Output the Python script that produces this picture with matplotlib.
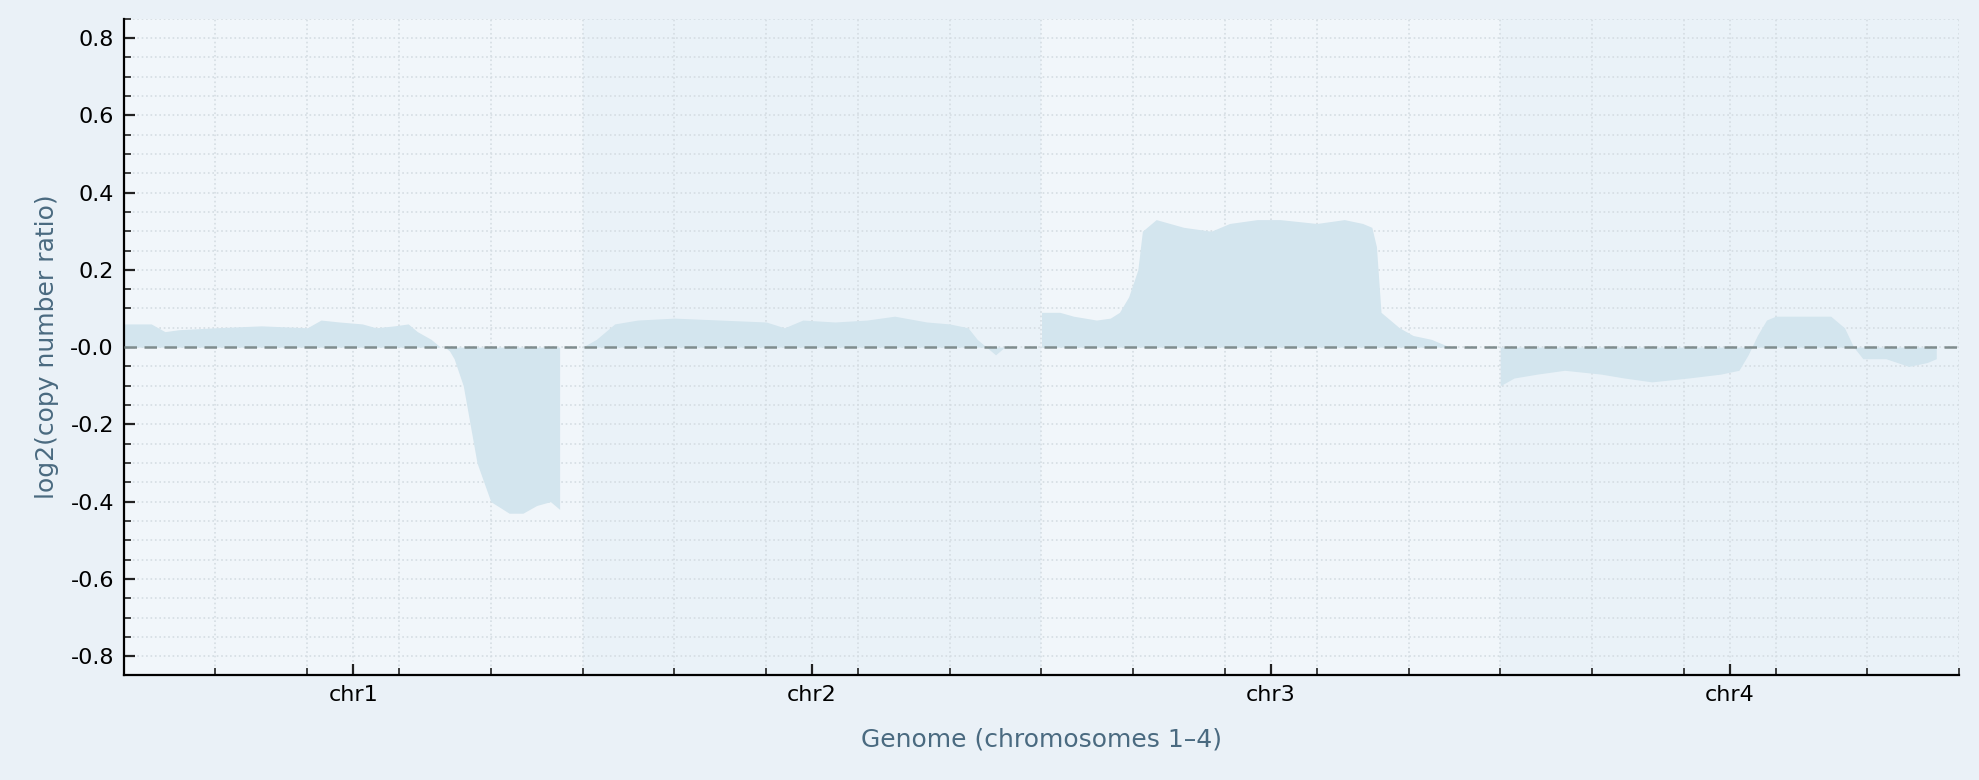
import matplotlib
matplotlib.use("Agg")
import matplotlib.pyplot as plt
import numpy as np
from matplotlib.ticker import MultipleLocator, FixedLocator

chroms = ["chr1", "chr2", "chr3", "chr4"]
# positions within each chromosome (fraction) and log2 ratio values
chr1_pos = [0.0,0.06,0.09,0.12,0.2,0.3,0.4,0.43,0.47,0.52,0.55,0.59,0.62,0.64,0.67,0.69,0.70,0.71,0.72,0.74,0.77,0.8,0.84,0.87,0.9,0.93,0.95]
chr1_val = [0.06,0.06,0.04,0.045,0.05,0.055,0.05,0.07,0.065,0.06,0.05,0.055,0.06,0.04,0.02,0.0,0.0,-0.01,-0.03,-0.1,-0.3,-0.4,-0.43,-0.43,-0.41,-0.40,-0.42]
chr2_pos = [0.0,0.03,0.07,0.12,0.2,0.3,0.4,0.44,0.48,0.55,0.62,0.68,0.75,0.8,0.84,0.86,0.88,0.9,0.92]
chr2_val = [0.0,0.02,0.06,0.07,0.075,0.07,0.065,0.05,0.07,0.065,0.07,0.08,0.065,0.06,0.05,0.02,0.0,-0.02,0.0]
chr3_pos = [0.0,0.04,0.07,0.12,0.15,0.17,0.19,0.21,0.22,0.25,0.28,0.31,0.37,0.41,0.47,0.52,0.6,0.66,0.7,0.72,0.73,0.74,0.78,0.81,0.85,0.89]
chr3_val = [0.09,0.09,0.08,0.07,0.075,0.09,0.13,0.2,0.3,0.33,0.32,0.31,0.30,0.32,0.33,0.33,0.32,0.33,0.32,0.31,0.26,0.09,0.05,0.03,0.02,0.0]
chr4_pos = [0.0,0.03,0.08,0.14,0.22,0.27,0.33,0.41,0.48,0.52,0.54,0.56,0.58,0.6,0.65,0.72,0.75,0.77,0.79,0.84,0.89,0.93,0.95]
chr4_val = [-0.1,-0.08,-0.07,-0.06,-0.07,-0.08,-0.09,-0.08,-0.07,-0.06,-0.02,0.03,0.07,0.08,0.08,0.08,0.05,0.0,-0.03,-0.03,-0.05,-0.04,-0.03]
series = [(chr1_pos, chr1_val), (chr2_pos, chr2_val), (chr3_pos, chr3_val), (chr4_pos, chr4_val)]

bg = "#eaf1f7"
fig = plt.figure(figsize=(9.895, 3.9), dpi=200, facecolor=bg)
ax = fig.add_axes([0.0625, 0.134, 0.9275, 0.842])
ax.set_facecolor(bg)
for i in range(len(chroms)):
    ax.axvspan(i, i + 1, color="#f1f6fa" if i % 2 == 0 else "#eaf2f8", lw=0, zorder=0)
    p, v = series[i]
    x = i + np.array(p)
    ax.fill_between(x, 0, np.array(v), color="#d3e5ee", lw=0, zorder=2)
ax.axhline(0, color="#7f8c8d", ls=(0, (5, 3)), lw=0.9, zorder=3)
ax.set_xlim(0, 4)
ax.set_ylim(-0.85, 0.85)
ax.xaxis.set_major_locator(FixedLocator([0.5, 1.5, 2.5, 3.5]))
ax.set_xticklabels(chroms)
ax.xaxis.set_minor_locator(MultipleLocator(0.2))
yt = np.round(np.arange(-0.8, 0.81, 0.2), 1)
ax.set_yticks(yt)
ax.set_yticklabels(["-0.0" if abs(t) < 1e-9 else f"{t:.1f}" for t in yt])
ax.yaxis.set_minor_locator(MultipleLocator(0.05))
ax.grid(True, which="both", color="#d5dde3", ls=":", lw=0.6, zorder=1)
ax.set_axisbelow(True)
ax.tick_params(which="both", direction="in", labelsize=8, color="#222222")
ax.tick_params(which="major", length=4)
ax.tick_params(which="minor", length=2.5)
for s in ["top", "right"]:
    ax.spines[s].set_visible(False)
ax.set_xlabel("Genome (chromosomes 1–4)", color="#4a6a80", fontsize=9, labelpad=8)
ax.set_ylabel("log2(copy number ratio)", color="#4a6a80", fontsize=9)
fig.savefig("out.png", dpi=200, facecolor=bg)
